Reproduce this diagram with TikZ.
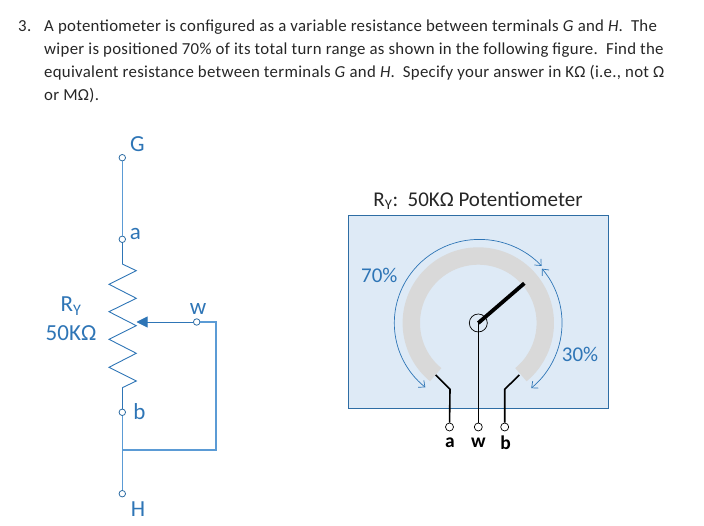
\documentclass[tikz,border=0pt]{standalone}
\usepackage{fontspec}
\setmainfont{Carlito}
\newfontfamily\qfont[LetterSpace=1.75]{Carlito}
\usetikzlibrary{arrows.meta}
\definecolor{wire}{HTML}{5B9BD5}
\definecolor{wiredark}{HTML}{2E75B6}
\definecolor{lab}{HTML}{2E75B6}
\definecolor{boxfill}{HTML}{DEEAF6}
\definecolor{boxline}{HTML}{2E6DA4}
\definecolor{dial}{HTML}{D9D9D9}
\definecolor{ttext}{HTML}{262626}
\tikzset{
  x=1pt,y=-1pt,
  txt/.style={anchor=base west,inner sep=0pt,font=\qfont\fontsize{16.8}{18}\selectfont,text=ttext},
  lbl/.style={inner sep=0pt,font=\fontsize{23}{25}\selectfont,text=lab},
  pct/.style={inner sep=0pt,font=\fontsize{21}{24}\selectfont,text=lab},
  ttl/.style={inner sep=0pt,font=\fontsize{21}{24}\selectfont,text=ttext},
  term/.style={inner sep=0pt,font=\bfseries\fontsize{19.5}{22}\selectfont,text=black},
  pin/.style={circle,draw=boxline,fill=white,line width=0.8pt,minimum size=6.5pt,inner sep=0pt},
  kpin/.style={circle,draw=black,fill=white,line width=0.7pt,minimum size=8pt,inner sep=0pt},
  thick wire/.style={draw=wire,line width=1.6pt},
  thin wire/.style={draw=wiredark,line width=0.9pt},
  blk/.style={draw=black,line width=1.6pt},
  sweep/.style={draw=wiredark,line width=0.7pt,{Straight Barb[length=5pt,width=9pt]}-{Straight Barb[length=5pt,width=9pt]}},
}
\begin{document}
\begin{tikzpicture}
\useasboundingbox (0,0) rectangle (704,526);
% question text
\node[txt] (n3) at (18,32) {3.};
\node[txt] (l1) at (44,32) {A potentiometer is configured as a variable resistance between terminals \textit{G} and \textit{H}.\ \ The};
\node[txt] (l2) at (44,55) {wiper is positioned 70\% of its total turn range as shown in the following figure.\ \ Find the};
\node[txt] (l3) at (44,78) {equivalent resistance between terminals \textit{G} and \textit{H}.\ \ Specify your answer in KΩ (i.e., not Ω};
\node[txt] (l4) at (44,101) {or MΩ).};
% left schematic
\coordinate (rtop) at (122.3,264);
\coordinate (rbot) at (122.3,387.7);
\coordinate (wiperpt) at (136.5,322);
\coordinate (jn) at (122.3,450);
\coordinate (corner) at (215.7,322);
\coordinate (cornerb) at (215.7,450);
\node[pin] (G) at (122.3,157.7) {};
\node[pin] (a) at (122.3,239.3) {};
\node[pin] (b) at (122.3,412.3) {};
\node[pin] (H) at (122.3,493.7) {};
\node[pin] (w) at (196.7,322) {};
\draw[thick wire] (G) -- (a);
\draw[thin wire] (a) -- (rtop);
\draw[thin wire,line join=miter] (rtop) -- (136.3,270.7) -- (109,284.3) -- (136.3,298.3) -- (109,311.7) -- (136.3,325.7) -- (109,339.3) -- (136.3,353.3) -- (109,367.3) -- (136.3,381) -- (rbot);
\draw[thin wire] (rbot) -- (b);
\draw[thick wire] (b) -- (jn);
\draw[thick wire] (jn) -- (H);
\draw[thick wire,line join=miter] (w) -- (corner) -- (cornerb) -- (jn);
\draw[thin wire,-{Triangle[length=11pt,width=11pt]}] (w) -- (wiperpt);
\node[lbl] (Gl) at (137.5,144) {G};
\node[lbl] (al) at (135.5,234) {a};
\node[lbl] (bl) at (139.5,412) {b};
\node[lbl] (Hl) at (138,509) {H};
\node[lbl] (wl) at (198,309) {w};
\node[lbl] (ry) at (71,306) {R\textsubscript{Y}};
\node[lbl] (rv) at (71,333.5) {50KΩ};
% potentiometer
\node[ttl] (title) at (478,201) {R\textsubscript{Y}:\ \ 50KΩ Potentiometer};
\draw[draw=boxline,fill=boxfill,line width=0.8pt] (348,215.3) rectangle (608.7,408.7);
\coordinate (c) at (478.3,323);
\draw[draw=dial,line width=17.4pt] (c) ++(-230.5:67) arc[start angle=-230.5,end angle=50.5,radius=67];
\draw[sweep] (425.3,387.3) arc[start angle=-230.5,end angle=-43,x radius=85,y radius=83.5];
\draw[sweep] (542,268.7) arc[start angle=-40.4,end angle=50.7,radius=84];
\node[pct] (p70) at (379.3,275.5) {70\%};
\node[pct] (p30) at (580,354) {30\%};
\node[circle,draw=black,line width=0.7pt,minimum size=18pt,inner sep=0pt] (pivot) at (c) {};
\coordinate (tip) at (524.3,283.3);
\draw[draw=black,line width=3.8pt] (c) -- (tip);
\node[kpin] (pa) at (449.5,427) {};
\node[kpin] (pw) at (478.3,427) {};
\node[kpin] (pb) at (504.7,427) {};
\draw[blk] (pa) -- (450,389.3) -- (435.7,375);
\draw[blk] (pw) -- (c);
\draw[blk] (pb) -- (504.7,389.3) -- (519.3,375);
\node[term] (ta) at (450,442.5) {a};
\node[term] (tw) at (478.3,442.5) {w};
\node[term] (tb) at (505.7,442.5) {b};
\end{tikzpicture}
\end{document}
